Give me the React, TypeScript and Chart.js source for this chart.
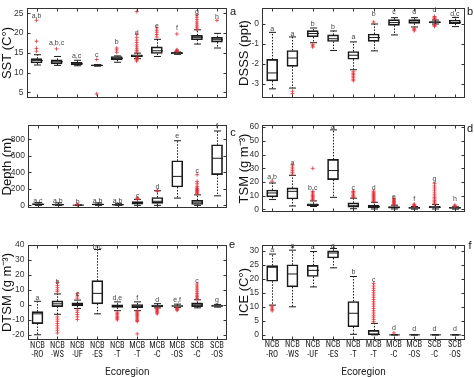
import React, { useEffect, useRef } from "react";
import { Chart, registerables } from "chart.js";
Chart.register(...registerables);

const ecoregions = ["NCB-RO", "NCB-WS", "NCB-UF", "NCB-ES", "NCB-T", "MCB-T", "MCB-C", "MCB-OS", "SCB-C", "SCB-OS"];

// a: SST
const sstMin = [11.9, 11.8, 11.7, 11.6, 12.6, 13.5, 14.06, 14.6, 17.2, 16.2];
const sstQ1 = [12.4, 12.2, 11.9, 11.7, 13.2, 14.0, 14.8, 14.75, 18.3, 17.7];
const sstMed = [13.0, 12.7, 12.2, 11.8, 13.6, 14.2, 15.5, 14.9, 18.9, 18.3];
const sstQ3 = [13.5, 13.2, 12.6, 11.95, 14.06, 14.5, 16.5, 15.1, 19.4, 18.9];
const sstMax = [14.5, 14.06, 13.1, 12.0, 14.2, 14.9, 18.4, 15.2, 20.8, 19.9];
const sstLetters = ["a,b", "a,b,c", "a,c", "c", "b", "d", "e", "f", "g", "h"];
const sstLetterY = [24.3, 17.4, 14.1, 14.5, 17.6, 20.1, 21.8, 21.3, 25.2, 24.1];
const sstOutliers: [number, number][] = [
  [0, 23.2], [0, 17.9], [0, 16.1], [0, 15.4], [1, 16.0], [3, 13.3], [3, 4.6],
  [4, 16.2], [4, 15.7], [4, 15.1],
  [5, 25.4], [5, 19.7], [5, 18.9], [5, 18.2], [5, 17.6], [5, 17.0], [5, 16.5], [5, 16.0], [5, 15.6], [5, 15.2],
  [5, 13.8], [5, 13.5], [5, 13.2], [5, 12.9],
  [6, 21.3], [6, 20.7], [6, 20.2], [6, 19.6], [6, 19.0],
  [7, 19.75], [7, 15.3], [7, 15.45], [7, 15.6], [7, 15.75],
  [8, 24.6], [8, 24.0], [8, 23.4], [8, 22.8], [8, 22.3], [8, 21.8], [8, 21.3], [8, 20.9],
  [9, 23.2],
];
const sstTicks = [5, 10, 15, 20, 25];

// b: DSSS
const dsssMin = [-3.26, -3.22, -0.94, -1.33, -2.3, -1.35, -0.55, -0.15, 0.0, -0.13];
const dsssQ1 = [-2.86, -2.13, -0.65, -0.88, -1.77, -0.87, -0.07, 0.03, 0.06, 0.02];
const dsssMed = [-2.46, -1.71, -0.48, -0.74, -1.57, -0.68, 0.07, 0.1, 0.09, 0.08];
const dsssQ3 = [-1.78, -1.33, -0.33, -0.55, -1.38, -0.5, 0.22, 0.22, 0.12, 0.2];
const dsssMax = [-0.42, -0.65, -0.2, -0.35, -0.9, 0.0, 0.32, 0.32, 0.2, 0.33];
const dsssLetters = ["a", "a", "b", "b", "a", "b", "c", "d", "d", "d,c"];
const dsssLetterY = [-0.27, -0.5, 0.0, -0.14, -0.68, 0.48, 0.58, 0.6, 0.68, 0.5];
const dsssOutliers: [number, number][] = [
  [1, -3.38], [1, -3.5], [2, -1.02], [2, -1.1], [2, -1.16],
  [4, -2.4], [4, -2.48], [4, -2.55], [4, -2.62], [4, -2.7], [4, -2.78], [4, -2.85],
  [5, 0.1], [7, -0.22], [7, -0.28], [7, -0.34],
  [8, 0.22], [8, 0.26], [8, 0.3], [8, 0.34], [8, 0.38], [8, -0.04], [8, -0.08], [8, -0.12],
];
const dsssTicks = [-3, -2, -1, 0];

// c: Depth
const depthMin = [0, 0, 1, 0, 0, 0, 0, 88, 0, 115];
const depthQ1 = [5, 3, 2, 4, 3, 13, 23, 222, 10, 372];
const depthMed = [10, 8, 3, 10, 7, 25, 49, 350, 39, 569];
const depthQ3 = [20, 15, 4, 18, 12, 46, 95, 539, 62, 732];
const depthMax = [35, 30, 6, 30, 25, 72, 176, 781, 127, 899];
const depthLetters = ["a,c", "a,b", "b", "a,b", "a,b", "c", "d", "e", "c", "f"];
const depthLetterY = [56, 56, 40, 56, 56, 115, 219, 833, 409, 954];
const depthOutliers: [number, number][] = [
  [2, 5], [2, 8], [2, 10], [5, 70], [5, 80], [5, 88], [6, 170], [6, 180],
  [8, 140], [8, 150], [8, 160], [8, 170], [8, 180], [8, 190], [8, 200], [8, 210], [8, 230], [8, 260], [8, 290], [8, 370],
];
const depthTicks = [0, 200, 400, 600, 800];

// d: TSM
const tsmMin = [7.1, 2.4, 2.0, 8.7, 0.4, 0.2, 0.2, 0.1, 0.2, 0.1];
const tsmQ1 = [9.1, 7.5, 2.4, 21.6, 1.45, 1.0, 0.8, 0.6, 1.0, 0.6];
const tsmMed = [11.9, 13.1, 3.2, 28.3, 2.6, 1.8, 1.3, 1.0, 1.5, 1.0];
const tsmQ3 = [14.1, 15.6, 4.0, 36.4, 4.7, 3.0, 2.0, 1.5, 2.2, 1.5];
const tsmMax = [19.2, 24.8, 6.1, 58, 8.1, 5.1, 3.0, 2.0, 3.5, 1.8];
const tsmLetters = ["a,b", "a", "b,c", "a", "c", "d", "e", "f", "g", "h"];
const tsmLetterY = [23.6, 33.8, 15.2, 60.0, 15.2, 15.6, 8.7, 7.1, 22.2, 7.5];
const tsmOutliers: [number, number][] = [
  [0, 20.6],
  [1, 25.8], [1, 27.0], [1, 28.2], [1, 29.5], [1, 30.8], [1, 32.3],
  [2, 6.8], [2, 7.5], [2, 8.3], [2, 9.2], [2, 10.0], [2, 11.0], [2, 12.0], [2, 13.0], [2, 29.9],
  [4, 8.7], [4, 9.5], [4, 10.3], [4, 11.1], [4, 12.0], [4, 12.8], [4, 13.2],
  [5, 5.6], [5, 6.3], [5, 7.0], [5, 7.8], [5, 8.5], [5, 9.3], [5, 10.0], [5, 10.8], [5, 11.6], [5, 12.4], [5, 13.2],
  [6, 3.2], [6, 3.8], [6, 4.4], [6, 5.0], [6, 5.7], [6, 6.4], [6, 7.2], [6, 8.0],
  [7, 2.2], [7, 2.7], [7, 3.2], [7, 3.8],
  [8, 3.8], [8, 4.6], [8, 5.5], [8, 6.5], [8, 7.5], [8, 8.5], [8, 9.7], [8, 11.0], [8, 12.5], [8, 14.0], [8, 15.5], [8, 17.0], [8, 18.7],
  [9, 2.0], [9, 2.5], [9, 3.0],
];
const tsmTicks = [0, 10, 20, 30, 40, 50, 60];

// e: DTSM
const dtsmMin = [-20, -6.3, -2.4, -6, -3.9, -3.9, -2, -1.8, -2, -1.5];
const dtsmQ1 = [-12.5, -1.2, -0.7, 0.7, -1.7, -1.8, -1.3, -1.1, -1.2, -1.1];
const dtsmMed = [-6.0, 0.7, 0.3, 7.7, -0.8, -0.8, -0.8, -0.8, 0, -0.7];
const dtsmQ3 = [-4.5, 2.7, 1.3, 16.2, 0.1, 0.25, -0.2, -0.5, 1.3, -0.2];
const dtsmMax = [2.4, 7.3, 3.2, 37, 2.0, 2.0, 0.8, 0.5, 3.4, 0.3];
const dtsmLetters = ["a", "b", "c", "b,c", "d,e", "f", "d", "e,f", "c", "g"];
const dtsmLetterY = [4.6, 15.6, 7.5, 39, 4.5, 4.5, 3.0, 3.0, 15.8, 3.0];
const dtsmOutliers: [number, number][] = [
  [1, 15.0], [1, 13.0], [1, 11.5], [1, 10.0], [1, 8.8], [1, -8.0], [1, -9.5], [1, -11.0], [1, -12.5], [1, -14.0], [1, -15.5], [1, -17.0], [1, -18.8],
  [2, 7.5], [2, 6.0], [2, 4.5], [2, -3.5], [2, -5.0], [2, -6.5], [2, -8.0], [2, -9.8],
  [4, -4.9], [4, -5.8], [4, -6.7], [4, -7.6], [4, -8.5], [4, -9.3], [4, -10.0],
  [5, -4.0], [5, -4.8], [5, -5.6], [5, -6.4], [5, -7.2], [5, -8.0], [5, -8.8], [5, -9.6], [5, -10.5], [5, -11.1], [5, -19.4],
  [6, -2.2], [6, -2.8], [6, -3.4], [6, -4.0], [6, -4.6], [6, -5.3], [6, -6.0],
  [7, -2.0], [7, -2.6], [7, -3.2], [7, -3.6],
  [8, 3.8], [8, 4.5], [8, 5.5], [8, 6.5], [8, 7.5], [8, 8.7], [8, 10.0], [8, 11.3], [8, 12.6], [8, 14.0],
];
const dtsmTicks = [-20, -10, 0, 10, 20, 30, 40];

// f: ICE
const iceMin = [10.6, 10.0, 17.1, 23.9, 0.2, 0, 0, 0, 0, 0];
const iceQ1 = [19.1, 17.1, 20.8, 27.4, 2.9, 0, 0, 0, 0, 0];
const iceMed = [24.1, 21.7, 23.0, 29.2, 7.7, 0.2, 0, 0, 0, 0];
const iceQ3 = [24.7, 25.0, 24.8, 30.0, 11.9, 1.6, 0, 0, 0, 0];
const iceMax = [28.8, 30.2, 29.7, 30.8, 20.8, 4.1, 0, 0, 0, 0];
const iceLetters = ["a", "a", "a", "a", "b", "c", "d", "d", "d", "d"];
const iceLetterY = [30.3, 31.5, 31.2, 31.8, 22.4, 19.7, 2.4, 1.9, 1.9, 1.9];
const iceOutliers: [number, number][] = [
  [0, 10.2], [0, 9.6], [0, 9.1], [0, 8.6],
  [5, 4.7], [5, 5.5], [5, 6.3], [5, 7.0], [5, 7.8], [5, 8.6], [5, 9.4], [5, 10.2], [5, 11.0], [5, 11.8],
  [5, 12.6], [5, 13.4], [5, 14.2], [5, 15.0], [5, 15.8], [5, 16.6], [5, 17.4], [5, 18.3],
  [6, 0.7],
];
const iceTicks = [0, 5, 10, 15, 20, 25, 30];

type PanelDef = {
  id: string; title: string; col: number; row: number;
  plot: [number, number, number, number];
  yMin: number; yMax: number; ticks: number[];
  min: number[]; q1: number[]; med: number[]; q3: number[]; max: number[];
  letters: string[]; letterY: number[]; out: [number, number][];
  tag: [number, number];
};

const panels: PanelDef[] = [
  { id: "a", title: "SST (C°)", col: 0, row: 0, plot: [26.5, 3.5, 227, 107.5], yMin: 3.55, yMax: 26.3, ticks: sstTicks,
    min: sstMin, q1: sstQ1, med: sstMed, q3: sstQ3, max: sstMax, letters: sstLetters, letterY: sstLetterY, out: sstOutliers, tag: [233, 12] },
  { id: "b", title: "DSSS (ppt)", col: 1, row: 0, plot: [262, 3.5, 465, 107.5], yMin: -3.72, yMax: 0.8, ticks: dsssTicks,
    min: dsssMin, q1: dsssQ1, med: dsssMed, q3: dsssQ3, max: dsssMax, letters: dsssLetters, letterY: dsssLetterY, out: dsssOutliers, tag: [470, 12] },
  { id: "c", title: "Depth (m)", col: 0, row: 1, plot: [28, 120, 227, 222.5], yMin: -32, yMax: 970, ticks: depthTicks,
    min: depthMin, q1: depthQ1, med: depthMed, q3: depthQ3, max: depthMax, letters: depthLetters, letterY: depthLetterY, out: depthOutliers, tag: [233, 133] },
  { id: "d", title: "TSM (g m⁻³)", col: 1, row: 1, plot: [262, 121, 465, 224.5], yMin: -2, yMax: 61.5, ticks: tsmTicks,
    min: tsmMin, q1: tsmQ1, med: tsmMed, q3: tsmQ3, max: tsmMax, letters: tsmLetters, letterY: tsmLetterY, out: tsmOutliers, tag: [470, 129] },
  { id: "e", title: "DTSM (g m⁻³)", col: 0, row: 2, plot: [27.5, 237.7, 227, 340], yMin: -23.5, yMax: 40, ticks: dtsmTicks,
    min: dtsmMin, q1: dtsmQ1, med: dtsmMed, q3: dtsmQ3, max: dtsmMax, letters: dtsmLetters, letterY: dtsmLetterY, out: dtsmOutliers, tag: [232, 245] },
  { id: "f", title: "ICE (C°)", col: 1, row: 2, plot: [262, 239, 465, 339.5], yMin: -1.65, yMax: 32, ticks: iceTicks,
    min: iceMin, q1: iceQ1, med: iceMed, q3: iceQ3, max: iceMax, letters: iceLetters, letterY: iceLetterY, out: iceOutliers, tag: [470, 246] },
];

const cols = [{ left: 0, width: 237 }, { left: 237, width: 237 }];
const rows = [{ top: 0, height: 117 }, { top: 117, height: 120 }, { top: 237, height: 140 }];

const SANS = '"Liberation Sans", Arial, sans-serif';
const NARROW = '"Liberation Sans Narrow", "Roboto Condensed", Roboto, sans-serif';

function makePlugin(p: PanelDef, offX: number, offY: number) {
  return {
    id: "boxExtras" + p.id,
    beforeDatasetsDraw(chart: any) {
      const ctx = chart.ctx;
      const x = chart.scales.x;
      const y = chart.scales.y;
      ctx.save();
      ctx.strokeStyle = "#1a1a1a";
      ctx.lineWidth = 1;
      for (let i = 0; i < ecoregions.length; i++) {
        const cx = Math.round(x.getPixelForValue(i)) + 0.5;
        const ymin = y.getPixelForValue(p.min[i]);
        const yq1 = y.getPixelForValue(p.q1[i]);
        const ymed = y.getPixelForValue(p.med[i]);
        const yq3 = y.getPixelForValue(p.q3[i]);
        const ymax = y.getPixelForValue(p.max[i]);
        ctx.setLineDash([1.5, 1.5]);
        ctx.beginPath();
        ctx.moveTo(cx, yq3); ctx.lineTo(cx, ymax);
        ctx.moveTo(cx, yq1); ctx.lineTo(cx, ymin);
        ctx.stroke();
        ctx.setLineDash([]);
        ctx.beginPath();
        ctx.moveTo(cx - 3.5, ymax); ctx.lineTo(cx + 3.5, ymax);
        ctx.moveTo(cx - 3.5, ymin); ctx.lineTo(cx + 3.5, ymin);
        ctx.moveTo(cx - 5.5, ymed); ctx.lineTo(cx + 5.5, ymed);
        ctx.stroke();
      }
      ctx.restore();
    },
    afterDraw(chart: any) {
      const ctx = chart.ctx;
      const x = chart.scales.x;
      const y = chart.scales.y;
      const a = chart.chartArea;
      ctx.save();
      ctx.strokeStyle = "#333";
      ctx.lineWidth = 1;
      const L = Math.round(a.left) + 0.5, R = Math.round(a.right) - 0.5;
      const T = Math.round(a.top) + 0.5, B = Math.round(a.bottom) - 0.5;
      ctx.strokeRect(L, T, R - L, B - T);
      ctx.beginPath();
      for (let i = 0; i < ecoregions.length; i++) {
        const cx = Math.round(x.getPixelForValue(i)) + 0.5;
        ctx.moveTo(cx, B); ctx.lineTo(cx, B - 3);
        ctx.moveTo(cx, T); ctx.lineTo(cx, T + 3);
      }
      for (const v of p.ticks) {
        const ty = Math.round(y.getPixelForValue(v)) + 0.5;
        ctx.moveTo(L, ty); ctx.lineTo(L + 3, ty);
        ctx.moveTo(R, ty); ctx.lineTo(R - 3, ty);
      }
      ctx.stroke();
      ctx.fillStyle = "#444";
      ctx.font = "7px " + SANS;
      ctx.textAlign = "center";
      ctx.textBaseline = "middle";
      for (let i = 0; i < ecoregions.length; i++) {
        ctx.fillText(p.letters[i], x.getPixelForValue(i), y.getPixelForValue(p.letterY[i]));
      }
      ctx.fillStyle = "#111";
      ctx.font = "11px " + SANS;
      ctx.fillText(p.id, p.tag[0] - offX, p.tag[1] - offY);
      ctx.restore();
    },
  };
}

function Panel({ p }: { p: PanelDef }) {
  const ref = useRef<HTMLCanvasElement>(null);
  const col = cols[p.col];
  const row = rows[p.row];
  useEffect(() => {
    const bottomRow = p.row === 2;
    const yw = p.plot[0] - col.left;
    const padRight = col.left + col.width - p.plot[2];
    const padTop = p.plot[1] - row.top;
    const xh = row.top + row.height - p.plot[3];
    const chart = new Chart(ref.current as HTMLCanvasElement, {
      type: "bar",
      data: {
        labels: ecoregions,
        datasets: [
          {
            type: "bar",
            data: p.q1.map((v, i) => [v, p.q3[i]]) as any,
            backgroundColor: "rgba(255,255,255,0)",
            borderColor: "#1a1a1a",
            borderWidth: 1,
            borderSkipped: false,
            barThickness: 11,
            order: 2,
          } as any,
          {
            type: "scatter",
            data: p.out.map(([i, v]) => ({ x: ecoregions[i], y: v })) as any,
            pointStyle: "cross",
            pointRadius: 2,
            borderColor: "rgba(230,40,50,0.75)",
            backgroundColor: "rgba(0,0,0,0)",
            borderWidth: 1,
            order: 1,
          } as any,
        ],
      },
      options: {
        responsive: false,
        animation: false,
        devicePixelRatio: 1,
        layout: { padding: { left: 0, right: padRight, top: padTop, bottom: bottomRow ? 0 : xh } },
        plugins: { legend: { display: false }, tooltip: { enabled: false } },
        scales: {
          x: {
            type: "category",
            display: bottomRow,
            offset: true,
            grid: { display: false, drawTicks: false },
            border: { display: false },
            ticks: {
              autoSkip: false,
              maxRotation: 0,
              padding: 1,
              color: "#222",
              font: { size: 8.5, family: NARROW, lineHeight: 1.1 },
              callback: (v: any) => {
                const l = ecoregions[v as number];
                const k = l.indexOf("-");
                return [l.slice(0, k), l.slice(k)];
              },
            },
            title: { display: true, text: "Ecoregion", color: "#222", font: { size: 10, family: "Roboto, sans-serif", lineHeight: 1 }, padding: { top: 0, bottom: 0 } },
            afterFit: (s: any) => { s.height = xh; },
          },
          y: {
            min: p.yMin,
            max: p.yMax,
            afterBuildTicks: (s: any) => { s.ticks = p.ticks.map((v) => ({ value: v })); },
            grid: { display: false, drawTicks: false },
            border: { display: false },
            ticks: { padding: 3, color: "#333", font: { size: 8.5, family: SANS } },
            title: { display: true, text: p.title, color: "#111", font: { size: 13, family: SANS, lineHeight: 1.15 }, padding: 0 },
            afterFit: (s: any) => { s.width = yw; },
          },
        },
      } as any,
      plugins: [makePlugin(p, col.left, row.top)],
    });
    return () => chart.destroy();
  }, []);
  return (
    <canvas
      ref={ref}
      width={col.width}
      height={row.height}
      style={{ position: "absolute", left: col.left, top: row.top, width: col.width, height: row.height }}
    />
  );
}

export default function App() {
  return (
    <div style={{ position: "absolute", left: 0, top: 0, width: 474, height: 377, background: "#fff", overflow: "hidden" }}>
      {panels.map((p) => (
        <Panel key={p.id} p={p} />
      ))}
    </div>
  );
}
